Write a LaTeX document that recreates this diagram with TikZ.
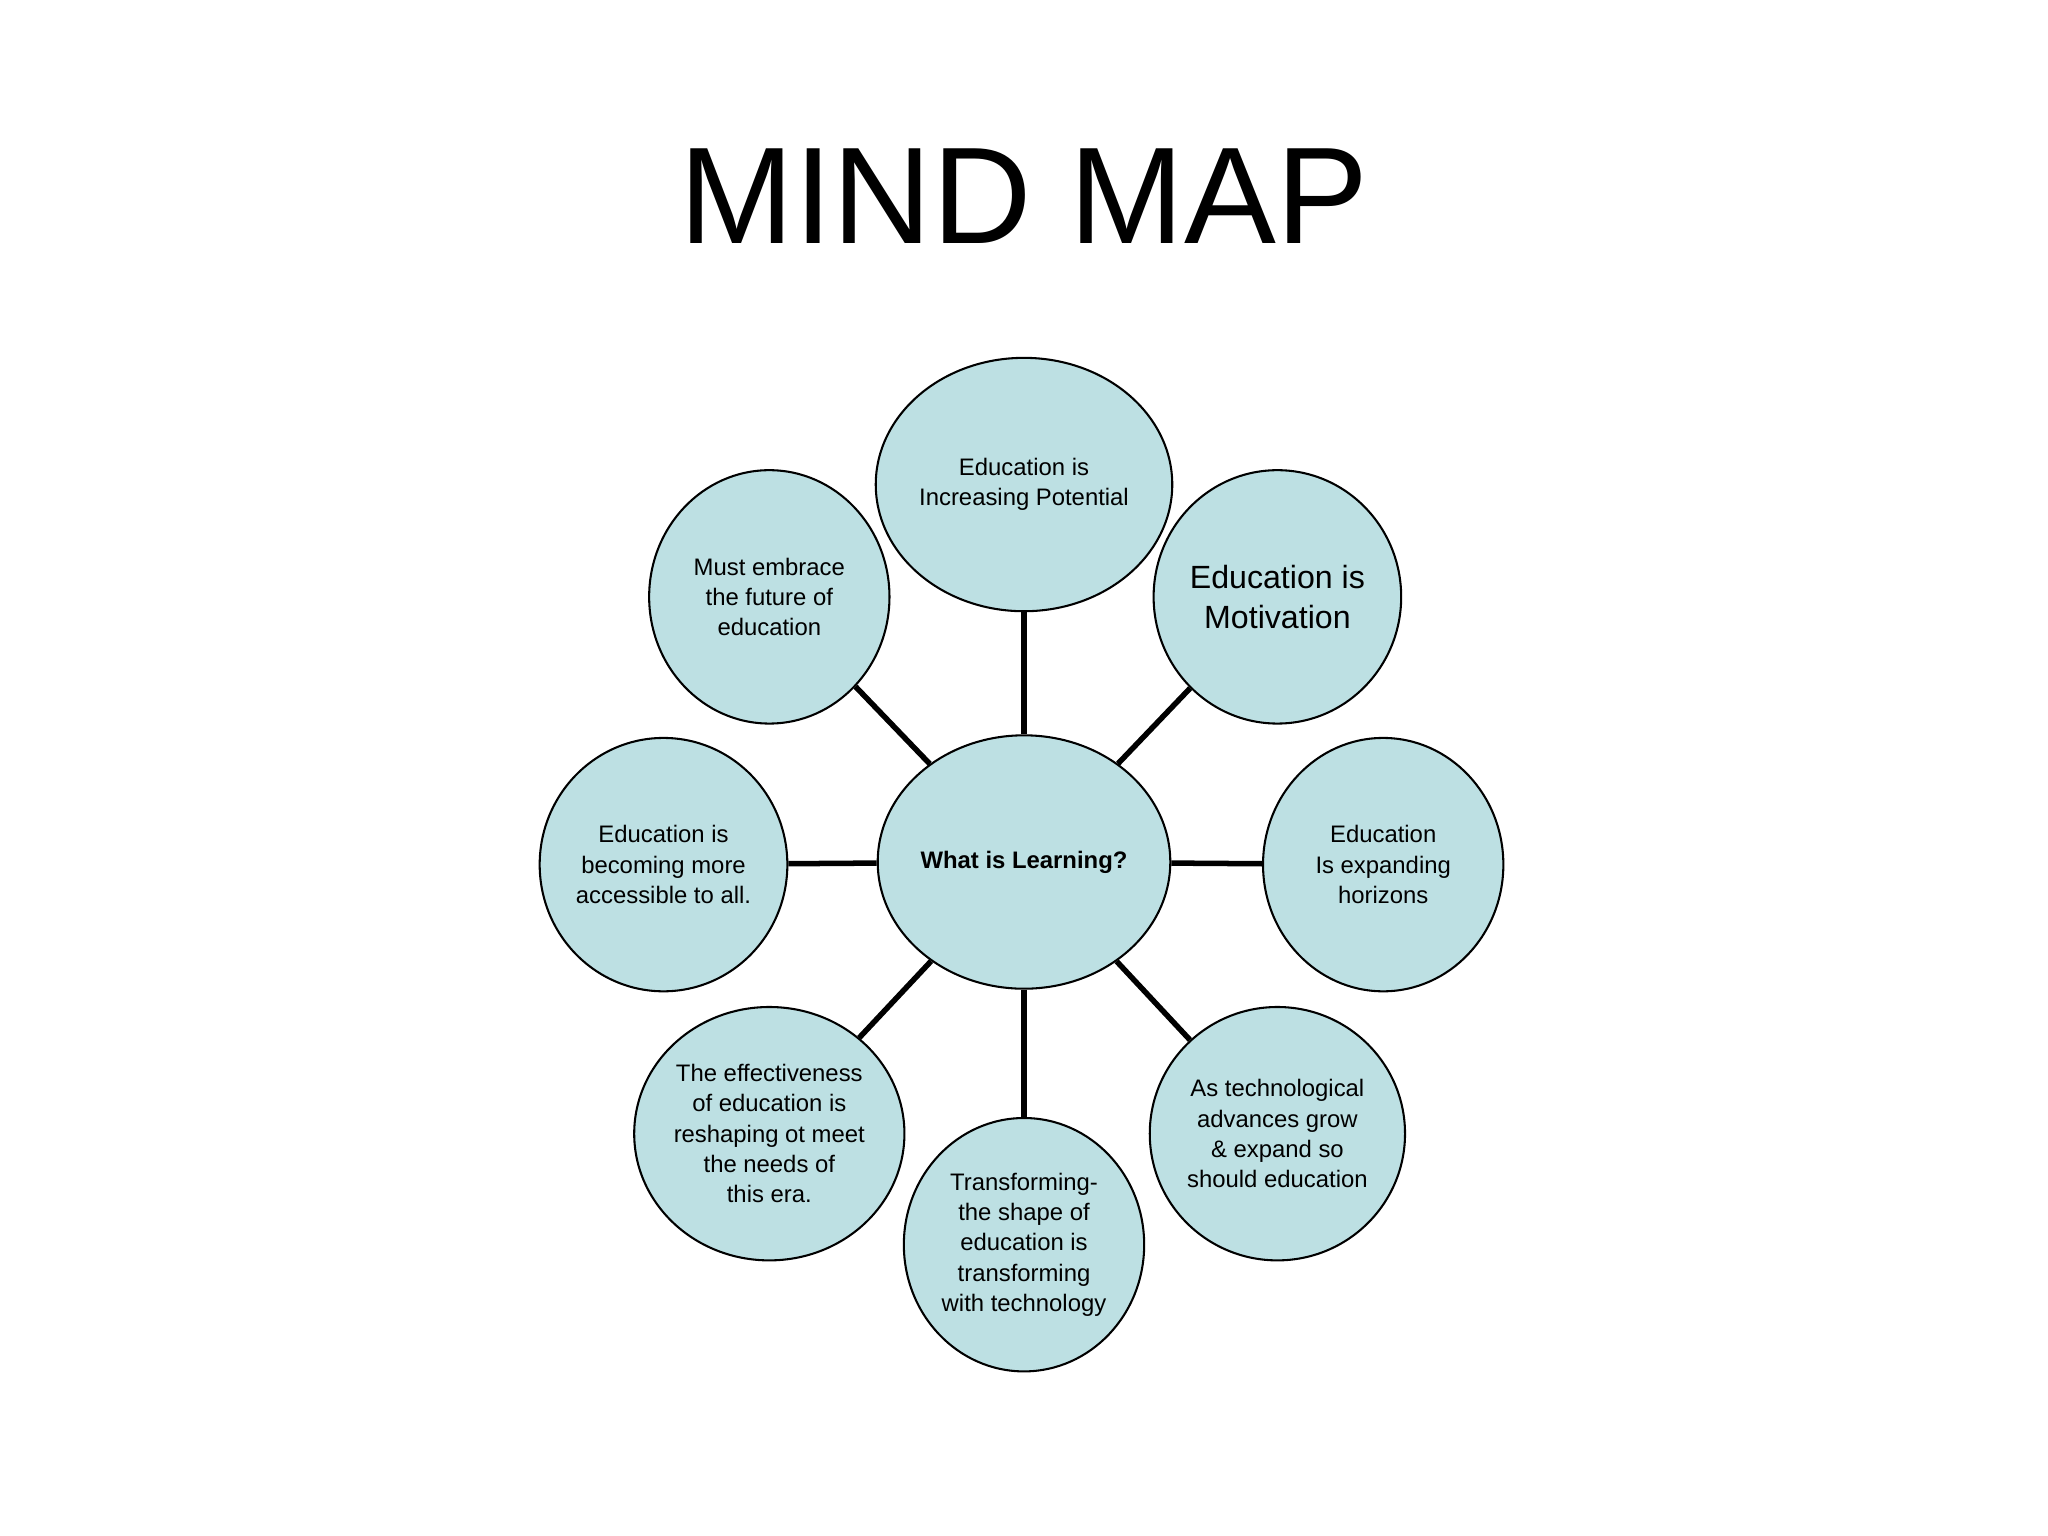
\documentclass[tikz,border=0pt]{standalone}
\usepackage{fontspec}
\setmainfont{Liberation Sans}
\usetikzlibrary{positioning,shapes.geometric}
\definecolor{bubble}{HTML}{BDE0E3}
\tikzstyle{bub} = [ellipse, draw, line width=0.45pt, fill=bubble, minimum width=1.84cm, minimum height=1.94cm, inner sep=0pt, align=center, font=\fontsize{5.2}{6.6}\selectfont]
\tikzstyle{spoke} = [line width=1.2pt]

\begin{document}
\begin{tikzpicture}
\useasboundingbox (0,0) rectangle (15.68,11.76);
	\node (title) at (7.84,10.26) {\fontsize{30}{30}\selectfont MIND MAP};
	\node[bub] (learn) at (7.84,5.16) {\textbf{What is Learning?}};
	\node[bub] (pot) at (7.84,8.05) {Education is\\Increasing Potential};
	\node[bub, font=\fontsize{7}{8.6}\selectfont] (mot) at (9.78,7.19) {Education is\\Motivation};
	\node[bub] (hor) at (10.59,5.14) {Education\\Is expanding\\horizons};
	\node[bub] (tech) at (9.78,3.08) {As technological\\advances grow\\\& expand so\\should education};
	\node[bub] (shape) at (7.84,2.23) {Transforming-\\the shape of\\education is\\transforming\\with technology};
	\node[bub] (eff) at (5.89,3.08) {The effectiveness\\of education is\\reshaping ot meet\\the needs of\\this era.};
	\node[bub] (acc) at (5.08,5.14) {Education is\\becoming more\\accessible to all.};
	\node[bub] (fut) at (5.89,7.19) {Must embrace\\the future of\\education};

	\foreach \n in {pot,mot,hor,tech,shape,eff,acc,fut}
		\draw[spoke] (learn) -- (\n);
\end{tikzpicture}
\end{document}
